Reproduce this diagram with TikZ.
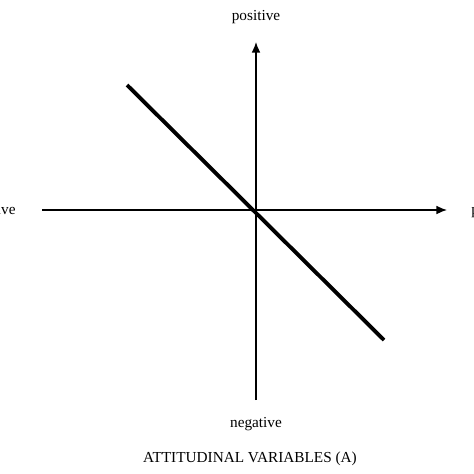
\documentclass[tikz,border=0pt]{standalone}
\usepackage{fontspec}
\setmainfont{Liberation Serif}
\usetikzlibrary{arrows.meta}
\tikzset{
  axis/.style={line width=0.8pt,-{Latex[length=6pt,width=5pt]}},
  label/.style={font=\fontsize{8.7}{11}\selectfont,inner sep=0pt}
}
\begin{document}
\begin{tikzpicture}[x=0.02cm,y=-0.02cm]
      \useasboundingbox (0,0) rectangle (474,474);
      \clip (0,0) rectangle (474,474);
      \coordinate (o) at (256,210);
      \coordinate (top) at (256,42);
      \coordinate (bot) at (256,400);
      \coordinate (left) at (42,210);
      \coordinate (right) at (447,210);
      \coordinate (a) at (127,85);
      \coordinate (b) at (384,340);
      \node[label] (pos) at (256,17) {positive};
      \node[label] (neg) at (256,424) {negative};
      \node[label,anchor=east] (lneg) at (16,211) {negative};
      \node[label,anchor=west] (rpos) at (471,211) {positive};
      \node[label] (title) at (250,459) {ATTITUDINAL VARIABLES (A)};
      \begin{scope}
        \draw[axis] (bot) to (top);
        \draw[axis] (left) to (right);
        \draw[line width=2.2pt] (a) to (b);
      \end{scope}
    \end{tikzpicture}
\end{document}
